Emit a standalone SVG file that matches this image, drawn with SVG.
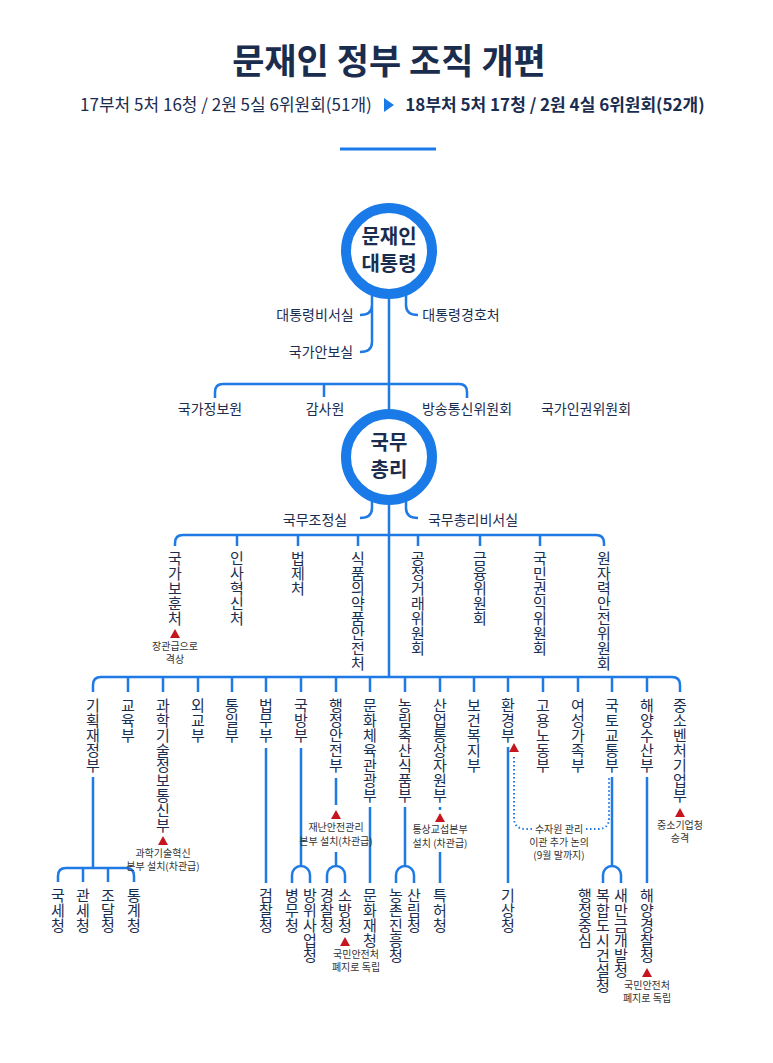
<svg xmlns="http://www.w3.org/2000/svg" width="773" height="1063" viewBox="0 0 773 1063">
<defs>
<style>
text{font-family:"Noto Sans CJK KR","Noto Sans",sans-serif;fill:#1b2d4f}
.ln{fill:none;stroke:#1f7ae6;stroke-width:2.5}
.dot{fill:none;stroke:#1f7ae6;stroke-width:2;stroke-dasharray:1.5 2.5}
.v{writing-mode:tb;text-orientation:upright;font-size:15px;letter-spacing:0px}
.c{writing-mode:tb;text-orientation:upright;font-size:15px;letter-spacing:0px}
.s{writing-mode:tb;text-orientation:upright;font-size:15px;letter-spacing:0px}
.h{font-size:14px;text-anchor:middle}
.n{font-size:10px;text-anchor:middle;fill:#333}
.tri{fill:#c4161c}
.ring{fill:#fff;stroke:#1a7ae8;stroke-width:10}
.big{font-size:20px;font-weight:bold;text-anchor:middle}
</style>
</defs>
<rect width="773" height="1063" fill="#fff"/>
<text x="389" y="74" font-size="35" font-weight="bold" text-anchor="middle" fill="#1b2f52">문재인 정부 조직 개편</text>
<text x="226" y="111" font-size="17" text-anchor="middle">17부처 5처 16청 / 2원 5실 6위원회(51개)</text>
<polygon points="384,98 394,105 384,112" fill="#1a7ae8"/>
<text x="555" y="111" font-size="17" font-weight="bold" text-anchor="middle">18부처 5처 17청 / 2원 4실 6위원회(52개)</text>
<line x1="340" y1="149" x2="436" y2="149" stroke="#1a7ae8" stroke-width="3"/>
<g id="connectors">
<path class="ln" d="M389 290 V677"/>
<path class="ln" d="M372 295 V305 Q372 315 360 315 M372 305 V342 Q372 352 360 352"/>
<path class="ln" d="M406 295 V305 Q406 315 418 315"/>
<path class="ln" d="M215 398 V392 Q215 384 223 384 H459 Q467 384 467 392 V398 M324 384 V397"/>
<path class="ln" d="M372 495 V508 Q372 518 360 518 M406 495 V508 Q406 518 418 518"/>
<path class="ln" d="M175 546 V543 Q175 535 183 535 H596 Q604 535 604 543 V546 M237 535 V546 M298 535 V546 M358 535 V546 M418 535 V546 M480 535 V546 M540 535 V546"/>
<path class="ln" d="M93 692 V685 Q93 677 101 677 H672 Q680 677 680 685 V692 M128 677 V692 M163 677 V692 M198 677 V692 M232 677 V692 M266 677 V692 M301 677 V692 M336 677 V692 M370 677 V692 M405 677 V692 M440 677 V692 M474 677 V692 M508 677 V692 M543 677 V692 M578 677 V692 M612 677 V692 M647 677 V692"/>
<path class="ln" d="M93 777 V868 M58 882 V876 Q58 868 66 868 H126 Q134 868 134 876 V882 M83 868 V882 M108 868 V882"/>
<path class="ln" d="M266 748 V883"/>
<path class="ln" d="M301 748 V866 M292 883 V875 A9 9 0 0 1 310 875 V883"/>
<path class="ln" d="M336 778 V805 M336 852 V866 M327 883 V875 A9 9 0 0 1 345 875 V883"/>
<path class="ln" d="M370 807 V883"/>
<path class="ln" d="M405 807 V866 M396 883 V875 A9 9 0 0 1 414 875 V883"/>
<path class="ln" d="M440 807 V810 M440 852 V883"/>
<path class="ln" d="M508 747 V883"/>
<path class="ln" d="M612 777 V866 M603 883 V875 A9 9 0 0 1 621 875 V883"/>
<path class="ln" d="M647 777 V883"/>
<path class="dot" d="M514 757 V818 Q514 829 526 829 H532 M586 829 H598 Q609 829 609 818 V777"/>
</g>
<g id="president"><circle class="ring" cx="389" cy="251" r="43"/><text class="big" x="389" y="244">문재인</text><text class="big" x="389" y="271">대통령</text></g>
<g id="pm"><circle class="ring" cx="389" cy="457" r="43"/><text class="big" x="389" y="450">국무</text><text class="big" x="389" y="477">총리</text></g>
<g id="upper">
<text class="h" x="315" y="320">대통령비서실</text>
<text class="h" x="321" y="357">국가안보실</text>
<text class="h" x="461" y="320">대통령경호처</text>
<text class="h" x="210" y="414">국가정보원</text>
<text class="h" x="325" y="414">감사원</text>
<text class="h" x="467" y="414">방송통신위원회</text>
<text class="h" x="586" y="414">국가인권위원회</text>
<text class="h" x="315" y="525">국무조정실</text>
<text class="h" x="473" y="525">국무총리비서실</text>
</g>
<g id="agencies">
<text class="c" x="175" y="551">국가보훈처</text>
<text class="c" x="237" y="551">인사혁신처</text>
<text class="c" x="298" y="551">법제처</text>
<text class="c" x="358" y="551">식품의약품안전처</text>
<text class="c" x="418" y="551">공정거래위원회</text>
<text class="c" x="480" y="551">금융위원회</text>
<text class="c" x="540" y="551">국민권익위원회</text>
<text class="c" x="604" y="551">원자력안전위원회</text>
<polygon class="tri" points="175,629 180,638 170,638"/>
<text class="n" x="175" y="650">장관급으로</text><text class="n" x="175" y="663">격상</text>
</g>
<g id="ministries">
<text class="v" x="93" y="698">기획재정부</text>
<text class="v" x="128" y="698">교육부</text>
<text class="v" x="163" y="698">과학기술정보통신부</text>
<text class="v" x="198" y="698">외교부</text>
<text class="v" x="232" y="698">통일부</text>
<text class="v" x="266" y="698">법무부</text>
<text class="v" x="301" y="698">국방부</text>
<text class="v" x="336" y="698">행정안전부</text>
<text class="v" x="370" y="698">문화체육관광부</text>
<text class="v" x="405" y="698">농림축산식품부</text>
<text class="v" x="440" y="698">산업통상자원부</text>
<text class="v" x="474" y="698">보건복지부</text>
<text class="v" x="508" y="698">환경부</text>
<text class="v" x="543" y="698">고용노동부</text>
<text class="v" x="578" y="698">여성가족부</text>
<text class="v" x="612" y="698">국토교통부</text>
<text class="v" x="647" y="698">해양수산부</text>
<text class="v" x="680" y="698">중소벤처기업부</text>
</g>
<g id="subs">
<text class="s" x="58" y="888">국세청</text>
<text class="s" x="83" y="888">관세청</text>
<text class="s" x="108" y="888">조달청</text>
<text class="s" x="134" y="888">통계청</text>
<text class="s" x="266" y="888">검찰청</text>
<text class="s" x="292" y="888">병무청</text>
<text class="s" x="310" y="888">방위사업청</text>
<text class="s" x="327" y="888">경찰청</text>
<text class="s" x="345" y="888">소방청</text>
<text class="s" x="370" y="888">문화재청</text>
<text class="s" x="396" y="888">농촌진흥청</text>
<text class="s" x="414" y="888">산림청</text>
<text class="s" x="440" y="888">특허청</text>
<text class="s" x="508" y="888">기상청</text>
<text class="s" x="585" y="888">행정중심</text>
<text class="s" x="603" y="888">복합도시건설청</text>
<text class="s" x="621" y="888">새만금개발청</text>
<text class="s" x="647" y="888">해양경찰청</text>
</g>
<g id="notes">
<polygon class="tri" points="163,836 168,845 158,845"/>
<text class="n" x="163" y="857">과학기술혁신</text><text class="n" x="163" y="870">본부 설치(차관급)</text>
<polygon class="tri" points="336,810 341,819 331,819"/>
<text class="n" x="336" y="831">재난안전관리</text><text class="n" x="336" y="845">본부 설치(차관급)</text>
<polygon class="tri" points="345,937 350,946 340,946"/>
<text class="n" x="356" y="958">국민안전처</text><text class="n" x="356" y="971">폐지로 독립</text>
<polygon class="tri" points="440,813 445,822 435,822"/>
<text class="n" x="440" y="833">통상교섭본부</text><text class="n" x="440" y="847">설치 (차관급)</text>
<polygon class="tri" points="514,743 519,752 509,752"/>
<text class="n" x="559" y="833">수자원 관리</text><text class="n" x="559" y="846">이관 추가 논의</text><text class="n" x="559" y="859">(9월 말까지)</text>
<polygon class="tri" points="647,968 652,977 642,977"/>
<text class="n" x="647" y="989">국민안전처</text><text class="n" x="647" y="1002">폐지로 독립</text>
<polygon class="tri" points="680,808 685,817 675,817"/>
<text class="n" x="680" y="829">중소기업청</text><text class="n" x="680" y="842">승격</text>
</g>
</svg>
